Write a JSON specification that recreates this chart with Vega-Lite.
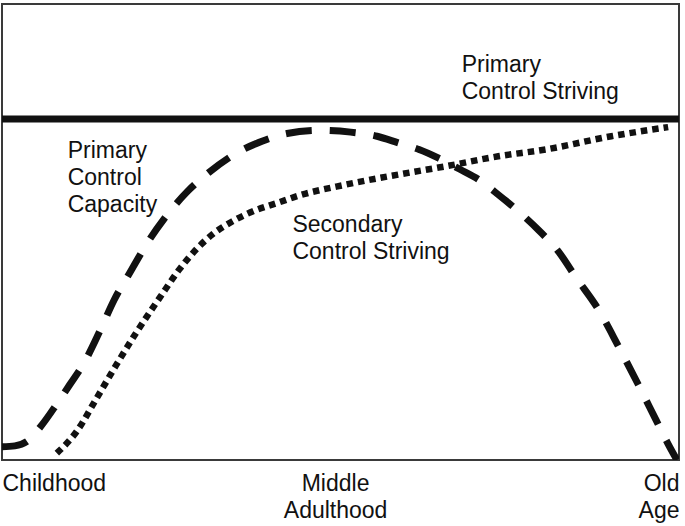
{
  "$schema": "https://vega.github.io/schema/vega-lite/v6.json",
  "autosize": "none",
  "width": 677,
  "height": 456,
  "padding": {"left": 2, "top": 4, "right": 6, "bottom": 66},
  "background": "white",
  "config": {
    "view": {"stroke": "#3a3a3a", "strokeWidth": 2},
    "font": "Liberation Sans"
  },
  "datasets": {
    "capacity": [
      {"age": 0, "level": 2.9}, {"age": 1.9, "level": 3.1}, {"age": 3.8, "level": 4.2},
      {"age": 5.9, "level": 7.7}, {"age": 8.1, "level": 12.3}, {"age": 10.0, "level": 16.5},
      {"age": 12.2, "level": 21.5}, {"age": 14.4, "level": 28.1}, {"age": 16.6, "level": 35.2},
      {"age": 18.9, "level": 41.1}, {"age": 21.5, "level": 47.7}, {"age": 24.0, "level": 53.0},
      {"age": 27.4, "level": 58.9}, {"age": 30.6, "level": 63.1}, {"age": 34.3, "level": 67.0},
      {"age": 38.4, "level": 69.9}, {"age": 42.1, "level": 71.6}, {"age": 46.8, "level": 72.3},
      {"age": 51.5, "level": 71.9}, {"age": 55.4, "level": 71.0}, {"age": 58.6, "level": 69.5},
      {"age": 61.6, "level": 68.1}, {"age": 64.5, "level": 66.2}, {"age": 67.7, "level": 63.7},
      {"age": 70.4, "level": 61.5}, {"age": 73.3, "level": 58.2}, {"age": 76.3, "level": 54.5},
      {"age": 79.2, "level": 50.5}, {"age": 82.2, "level": 45.7}, {"age": 84.8, "level": 40.0},
      {"age": 88.1, "level": 33.0}, {"age": 91.0, "level": 25.1}, {"age": 94.0, "level": 16.5},
      {"age": 96.6, "level": 8.8}, {"age": 98.4, "level": 3.5}, {"age": 99.7, "level": 0}
    ],
    "secondary": [
      {"age": 8.1, "level": 1.5}, {"age": 11.0, "level": 6.2}, {"age": 14.0, "level": 13.6},
      {"age": 16.9, "level": 20.9}, {"age": 19.9, "level": 28.1}, {"age": 23.3, "level": 35.6},
      {"age": 26.2, "level": 41.8}, {"age": 28.7, "level": 46.2}, {"age": 31.1, "level": 49.5},
      {"age": 34.0, "level": 52.3}, {"age": 37.0, "level": 54.5}, {"age": 40.9, "level": 56.5},
      {"age": 43.9, "level": 58.0}, {"age": 50.8, "level": 60.4}, {"age": 60.5, "level": 63.1},
      {"age": 65.5, "level": 64.4}, {"age": 73.3, "level": 66.6}, {"age": 80.3, "level": 68.1},
      {"age": 90.0, "level": 71.0}, {"age": 98.4, "level": 73.0}
    ],
    "striving": [{"level": 74.8}],
    "labels": [
      {"age": 67.9, "level": 85.1, "label": "Primary\nControl Striving"},
      {"age": 9.7, "level": 66.2, "label": "Primary\nControl\nCapacity"},
      {"age": 42.9, "level": 50.0, "label": "Secondary\nControl Striving"}
    ]
  },
  "layer": [
    {
      "data": {"name": "striving"},
      "mark": {"type": "rule", "color": "#111", "strokeWidth": 7},
      "encoding": {
        "y": {"field": "level", "type": "quantitative", "scale": {"domain": [0, 100], "nice": false}, "axis": null}
      }
    },
    {
      "data": {"name": "capacity"},
      "mark": {"type": "line", "color": "#111", "strokeWidth": 7, "strokeDash": [26, 18], "interpolate": "monotone", "clip": true},
      "encoding": {
        "x": {"field": "age", "type": "quantitative", "scale": {"domain": [0, 100], "nice": false},
          "axis": {
            "values": [0, 49.2, 100],
            "title": null,
            "domain": false,
            "ticks": false,
            "grid": false,
            "labelFlush": true,
            "labelFont": "Liberation Sans",
            "labelFontSize": 23,
            "labelColor": "#111",
            "labelLineHeight": 27,
            "labelPadding": 12,
            "labelOverlap": false,
            "labelExpr": "datum.value == 0 ? 'Childhood' : datum.value == 100 ? ['Old', 'Age'] : ['Middle', 'Adulthood']"
          }
        },
        "y": {"field": "level", "type": "quantitative", "scale": {"domain": [0, 100], "nice": false}, "axis": null}
      }
    },
    {
      "data": {"name": "secondary"},
      "mark": {"type": "line", "color": "#111", "strokeWidth": 6.5, "strokeDash": [6.5, 5], "interpolate": "monotone", "clip": true},
      "encoding": {
        "x": {"field": "age", "type": "quantitative"},
        "y": {"field": "level", "type": "quantitative"}
      }
    },
    {
      "data": {"name": "labels"},
      "mark": {"type": "text", "align": "left", "baseline": "alphabetic", "lineBreak": "\n", "lineHeight": 27, "fontSize": 23, "font": "Liberation Sans", "color": "#111"},
      "encoding": {
        "x": {"field": "age", "type": "quantitative"},
        "y": {"field": "level", "type": "quantitative"},
        "text": {"field": "label"}
      }
    }
  ]
}
